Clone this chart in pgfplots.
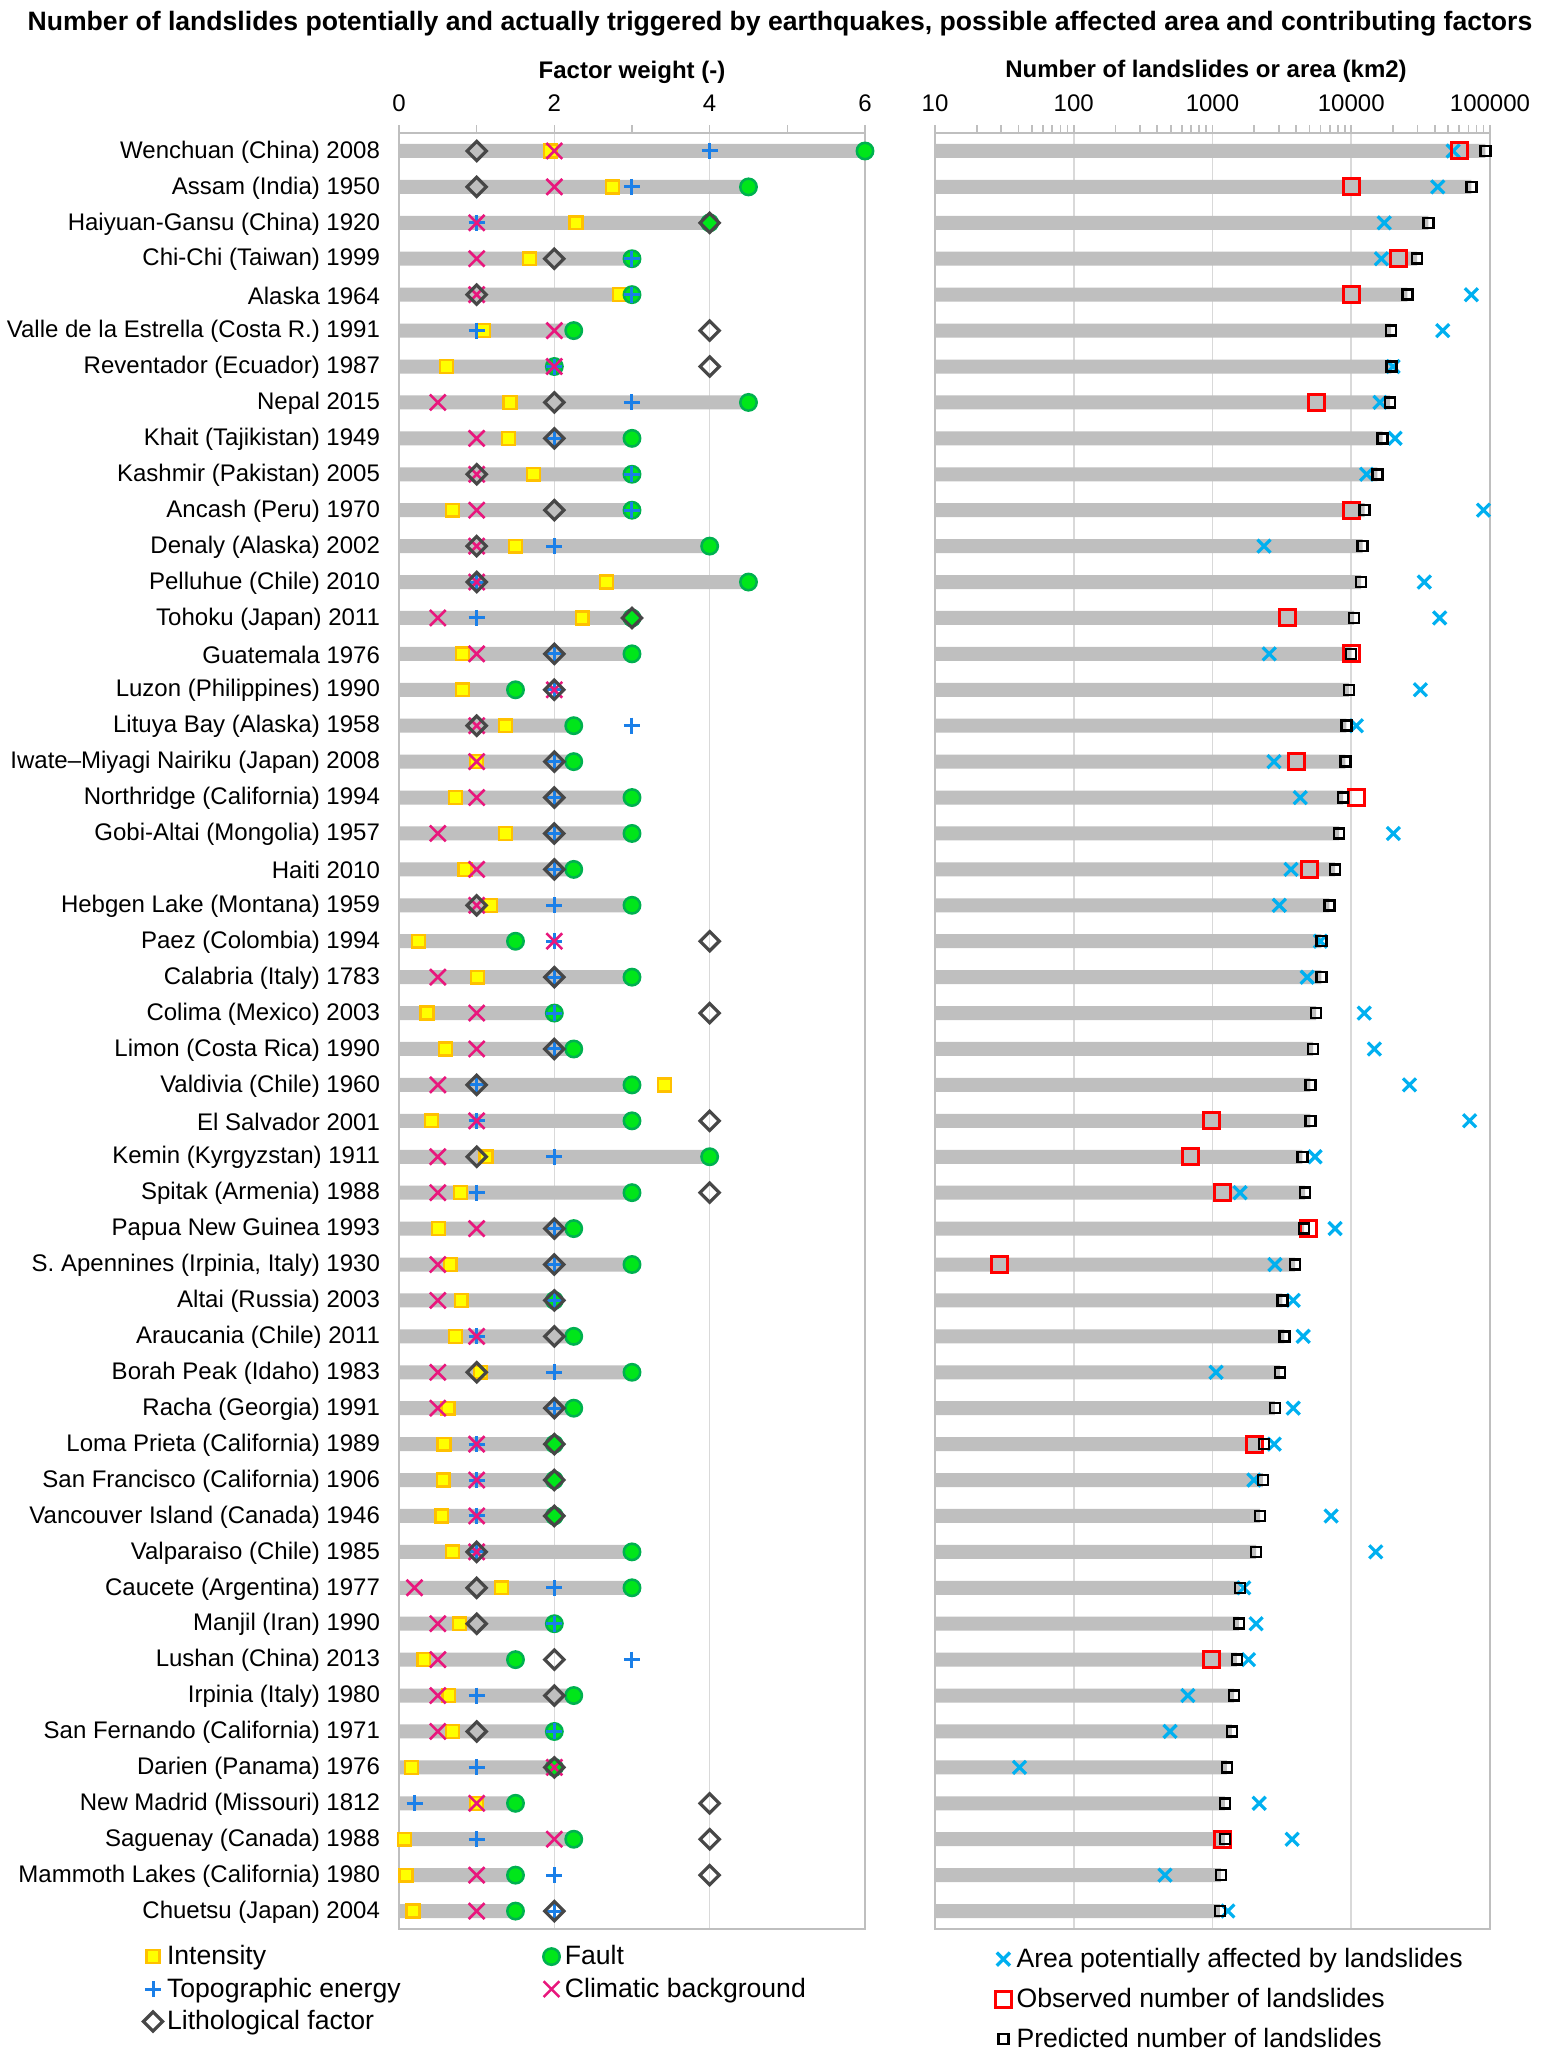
\documentclass[border=0pt]{standalone}
\usepackage{fontspec}
\setmainfont{Liberation Sans}
\usepackage{pgfplots}
\pgfplotsset{compat=1.18}
\usepackage{pgfplotstable}

\definecolor{barg}{HTML}{BFBFBF}
\definecolor{gridc}{HTML}{D9D9D9}
\definecolor{framec}{HTML}{BFBFBF}
\definecolor{yelF}{HTML}{FFFF00}
\definecolor{yelD}{HTML}{FFC000}
\definecolor{grnF}{HTML}{00E61A}
\definecolor{grnD}{HTML}{00B050}
\definecolor{bluP}{HTML}{1A7FE8}
\definecolor{pinkX}{HTML}{E8177D}
\definecolor{diaC}{HTML}{474747}
\definecolor{cyanX}{HTML}{00B0F0}
\definecolor{redS}{HTML}{FF0000}

\pgfplotsset{
  dotlegend/.style={legend image code/.code={\draw[##1] plot coordinates {(0pt,0pt)};}},
  sIntensity/.style={only marks, mark=square*, mark size=3.2pt, mark options={fill=yelF, draw=yelD, line width=1.2pt}},
  sFault/.style={only marks, mark=*, mark size=4.1pt, mark options={fill=grnF, draw=grnD, line width=1.25pt}},
  sTopo/.style={only marks, mark=+, mark size=4pt, mark options={draw=bluP, line width=1.5pt}},
  sClim/.style={only marks, mark=x, mark size=5.6pt, mark options={draw=pinkX, line width=1.3pt}},
  sLith/.style={only marks, mark=square, mark size=3.4pt, mark options={rotate=45, draw=diaC, line width=1.6pt}},
  sArea/.style={only marks, mark=x, mark size=4.6pt, mark options={draw=cyanX, line width=1.6pt}},
  sObs/.style={only marks, mark=square, mark size=4pt, mark options={draw=redS, line width=1.5pt}},
  sPred/.style={only marks, mark=square, mark size=2.5pt, mark options={draw=black, line width=1.25pt}},
  panel/.style={scale only axis, height=898pt, ymin=0.5, ymax=50.5, y dir=reverse,
    enlargelimits=false, clip=false,
    axis line style={draw=framec, line width=0.8pt},
    xmajorgrids, major grid style={draw=gridc, line width=0.8pt},
    xticklabel pos=right, xtick pos=right, tick align=outside,
    major tick length=4pt, minor tick length=4pt,
    xtick style={draw=framec, line width=0.8pt},
    ytick style={draw=none},
    tick label style={font=\fontsize{12}{14}\selectfont},
    xticklabel style={yshift=3pt}},
  hiddenleg/.style={hide axis, scale only axis, width=1pt, height=1pt, at={(0pt,0pt)}, anchor=south west,
    xmin=0, xmax=1, ymin=0, ymax=1}
}

\pgfplotstableread{
row I F T C L
1 1.95 6 4 2 1
2 2.75 4.5 3 2 1
3 2.28 4 1 1 4
4 1.68 3 3 1 2
5 2.84 3 3 1 1
6 1.09 2.25 1 2 4
7 0.61 2 2 2 4
8 1.43 4.5 3 0.5 2
9 1.41 3 2 1 2
10 1.73 3 3 1 1
11 0.69 3 3 1 2
12 1.50 4 2 1 1
13 2.67 4.5 1 1 1
14 2.36 3 1 0.5 3
15 0.82 3 2 1 2
16 0.82 1.5 2 2 2
17 1.37 2.25 3 1 1
18 1.00 2.25 2 1 2
19 0.73 3 2 1 2
20 1.37 3 2 0.5 2
21 0.85 2.25 2 1 2
22 1.18 3 2 1 1
23 0.25 1.5 2 2 4
24 1.01 3 2 0.5 2
25 0.36 2 2 1 4
26 0.60 2.25 2 1 2
27 3.42 3 1 0.5 1
28 0.42 3 1 1 4
29 1.12 4 2 0.5 1
30 0.79 3 1 0.5 4
31 0.51 2.25 2 1 2
32 0.66 3 2 0.5 2
33 0.80 2 2 0.5 2
34 0.73 2.25 1 1 2
35 1.05 3 2 0.5 1
36 0.63 2.25 2 0.5 2
37 0.58 2 1 1 2
38 0.57 2 1 1 2
39 0.55 2 1 1 2
40 0.69 3 1 1 1
41 1.32 3 2 0.2 1
42 0.78 2 2 0.5 1
43 0.32 1.5 3 0.5 2
44 0.64 2.25 1 0.5 2
45 0.69 2 2 0.5 1
46 0.16 2 1 2 2
47 1.00 1.5 0.2 1 4
48 0.07 2.25 1 2 4
49 0.09 1.5 2 1 4
50 0.18 1.5 2 1 2
}\leftdata

\pgfplotstableread{
row A O P
1 54300 60500 92500
2 42000 10000 73400
3 17300 nan 36000
4 16500 21900 29900
5 73400 10000 25400
6 45600 nan 19400
7 20000 nan 19500
8 16100 5580 19100
9 20700 nan 16800
10 12900 nan 15400
11 89800 10000 12500
12 2350 nan 12100
13 33600 nan 11800
14 43400 3470 10500
15 2560 10000 9950
16 31500 nan 9640
17 10900 nan 9230
18 2770 4010 9060
19 4290 11000 8740
20 20100 nan 8180
21 3680 4980 7650
22 3030 nan 6950
23 6000 nan 6080
24 4810 nan 6080
25 12400 nan 5580
26 14700 nan 5320
27 26300 nan 5070
28 71300 991 5070
29 5480 698 4440
30 1580 1190 4660
31 7650 4950 4570
32 2820 29 3940
33 3820 nan 3190
34 4500 nan 3300
35 1060 nan 3070
36 3820 nan 2820
37 2790 2000 2350
38 1990 nan 2310
39 7160 nan 2200
40 15000 nan 2060
41 1680 nan 1580
42 2060 nan 1550
43 1820 991 1500
44 665 nan 1430
45 494 nan 1380
46 40.6 nan 1270
47 2170 nan 1230
48 3750 1190 1230
49 454 nan 1150
50 1290 nan 1130
}\rightdata

\begin{document}
\begin{tikzpicture}[x=1pt,y=1pt]
\useasboundingbox (0,0) rectangle (780.5,-1035.5);

\node[anchor=base, font=\bfseries\fontsize{13.3}{15}\selectfont] at (390,-15.2)
  {Number of landslides potentially and actually triggered by earthquakes, possible affected area and contributing factors};
\node[anchor=base, font=\bfseries\fontsize{12}{14}\selectfont] at (316,-39.5) {Factor weight (-)};
\node[anchor=base, font=\bfseries\fontsize{12}{14}\selectfont] at (603,-39) {Number of landslides or area (km2)};

% left panel
\begin{axis}[panel, at={(199.5pt,-66.5pt)}, anchor=north west, width=233pt,
  xmin=0, xmax=6, xtick={0,2,4,6}, xticklabels={0,2,4,6}, minor xtick={1,3,5},
  ytick={1,...,50},
  yticklabel style={xshift=-2pt, yshift=-0.5pt},
  yticklabels={Wenchuan (China) 2008, Assam (India) 1950, Haiyuan-Gansu (China) 1920, Chi-Chi (Taiwan) 1999,
    Alaska 1964, Valle de la Estrella (Costa R.) 1991, Reventador (Ecuador) 1987, Nepal 2015,
    Khait (Tajikistan) 1949, Kashmir (Pakistan) 2005, Ancash (Peru) 1970, Denaly (Alaska) 2002,
    Pelluhue (Chile) 2010, Tohoku (Japan) 2011, Guatemala 1976, Luzon (Philippines) 1990,
    Lituya Bay (Alaska) 1958, Iwate–Miyagi Nairiku (Japan) 2008, Northridge (California) 1994,
    Gobi-Altai (Mongolia) 1957, Haiti 2010, Hebgen Lake (Montana) 1959, Paez (Colombia) 1994,
    Calabria (Italy) 1783, Colima (Mexico) 2003, Limon (Costa Rica) 1990\ , Valdivia (Chile) 1960,
    El Salvador 2001, Kemin (Kyrgyzstan) 1911, Spitak (Armenia) 1988, Papua New Guinea 1993,
    {S. Apennines (Irpinia, Italy) 1930}, Altai (Russia) 2003, Araucania (Chile) 2011,
    Borah Peak (Idaho) 1983, Racha (Georgia) 1991, Loma Prieta (California) 1989,
    San Francisco (California) 1906, Vancouver Island (Canada) 1946, Valparaiso (Chile) 1985,
    Caucete (Argentina) 1977, Manjil (Iran) 1990, Lushan (China) 2013, Irpinia (Italy) 1980,
    San Fernando (California) 1971, Darien (Panama) 1976, New Madrid (Missouri) 1812,
    Saguenay (Canada) 1988, Mammoth Lakes (California) 1980, Chuetsu (Japan) 2004}]
\addplot[xbar, bar width=7pt, fill=barg, draw=none] table[x=F, y=row] {\leftdata};
\addplot[sIntensity] table[x=I, y=row] {\leftdata};
\addplot[sFault] table[x=F, y=row] {\leftdata};
\addplot[sTopo] table[x=T, y=row] {\leftdata};
\addplot[sClim] table[x=C, y=row] {\leftdata};
\addplot[sLith] table[x=L, y=row] {\leftdata};
\end{axis}

% right panel
\begin{axis}[panel, at={(467.5pt,-66.5pt)}, anchor=north west, width=277.5pt,
  xmode=log, log origin x=infty, xmin=10, xmax=100000,
  xtick={10,100,1000,10000,100000}, xticklabels={10,100,1000,10000,100000},
  minor xtick={20,30,40,50,60,70,80,90,200,300,400,500,600,700,800,900,2000,3000,4000,5000,6000,7000,8000,9000,20000,30000,40000,50000,60000,70000,80000,90000},
  ytick=\empty]
\addplot[xbar, bar width=7pt, fill=barg, draw=none] table[x=P, y=row] {\rightdata};
\addplot[sArea] table[x=A, y=row] {\rightdata};
\addplot[sObs] table[x=O, y=row] {\rightdata};
\addplot[sPred] table[x=P, y=row] {\rightdata};
\end{axis}

% left legend
\begin{axis}[hiddenleg, legend columns=2, legend cell align=left,
  legend style={at={(71.55,-971.05)}, anchor=north west, draw=none, fill=none, inner sep=0pt,
    font=\fontsize{13.3}{15}\selectfont, row sep=1.1pt,
    /tikz/column 1/.append style={column sep=0.2pt},
    /tikz/column 2/.append style={column sep=69.3pt},
    /tikz/column 3/.append style={column sep=0.6pt}}]
\addlegendimage{sIntensity, dotlegend}
\addlegendentry{Intensity}
\addlegendimage{sFault, dotlegend}
\addlegendentry{Fault}
\addlegendimage{sTopo, dotlegend}
\addlegendentry{Topographic energy}
\addlegendimage{sClim, dotlegend}
\addlegendentry{Climatic background}
\addlegendimage{sLith, dotlegend}
\addlegendentry{Lithological factor}
\end{axis}

% right legend
\begin{axis}[hiddenleg, legend cell align=left,
  legend style={at={(497.75,-972.3)}, anchor=north west, draw=none, fill=none, inner sep=0pt,
    font=\fontsize{13.3}{15}\selectfont, row sep=4.85pt,
    /tikz/column 1/.append style={column sep=0.6pt}}]
\addlegendimage{sArea, dotlegend}
\addlegendentry{Area potentially affected by landslides}
\addlegendimage{sObs, dotlegend}
\addlegendentry{Observed number of landslides}
\addlegendimage{sPred, dotlegend}
\addlegendentry{Predicted number of landslides}
\end{axis}
\end{tikzpicture}
\end{document}
